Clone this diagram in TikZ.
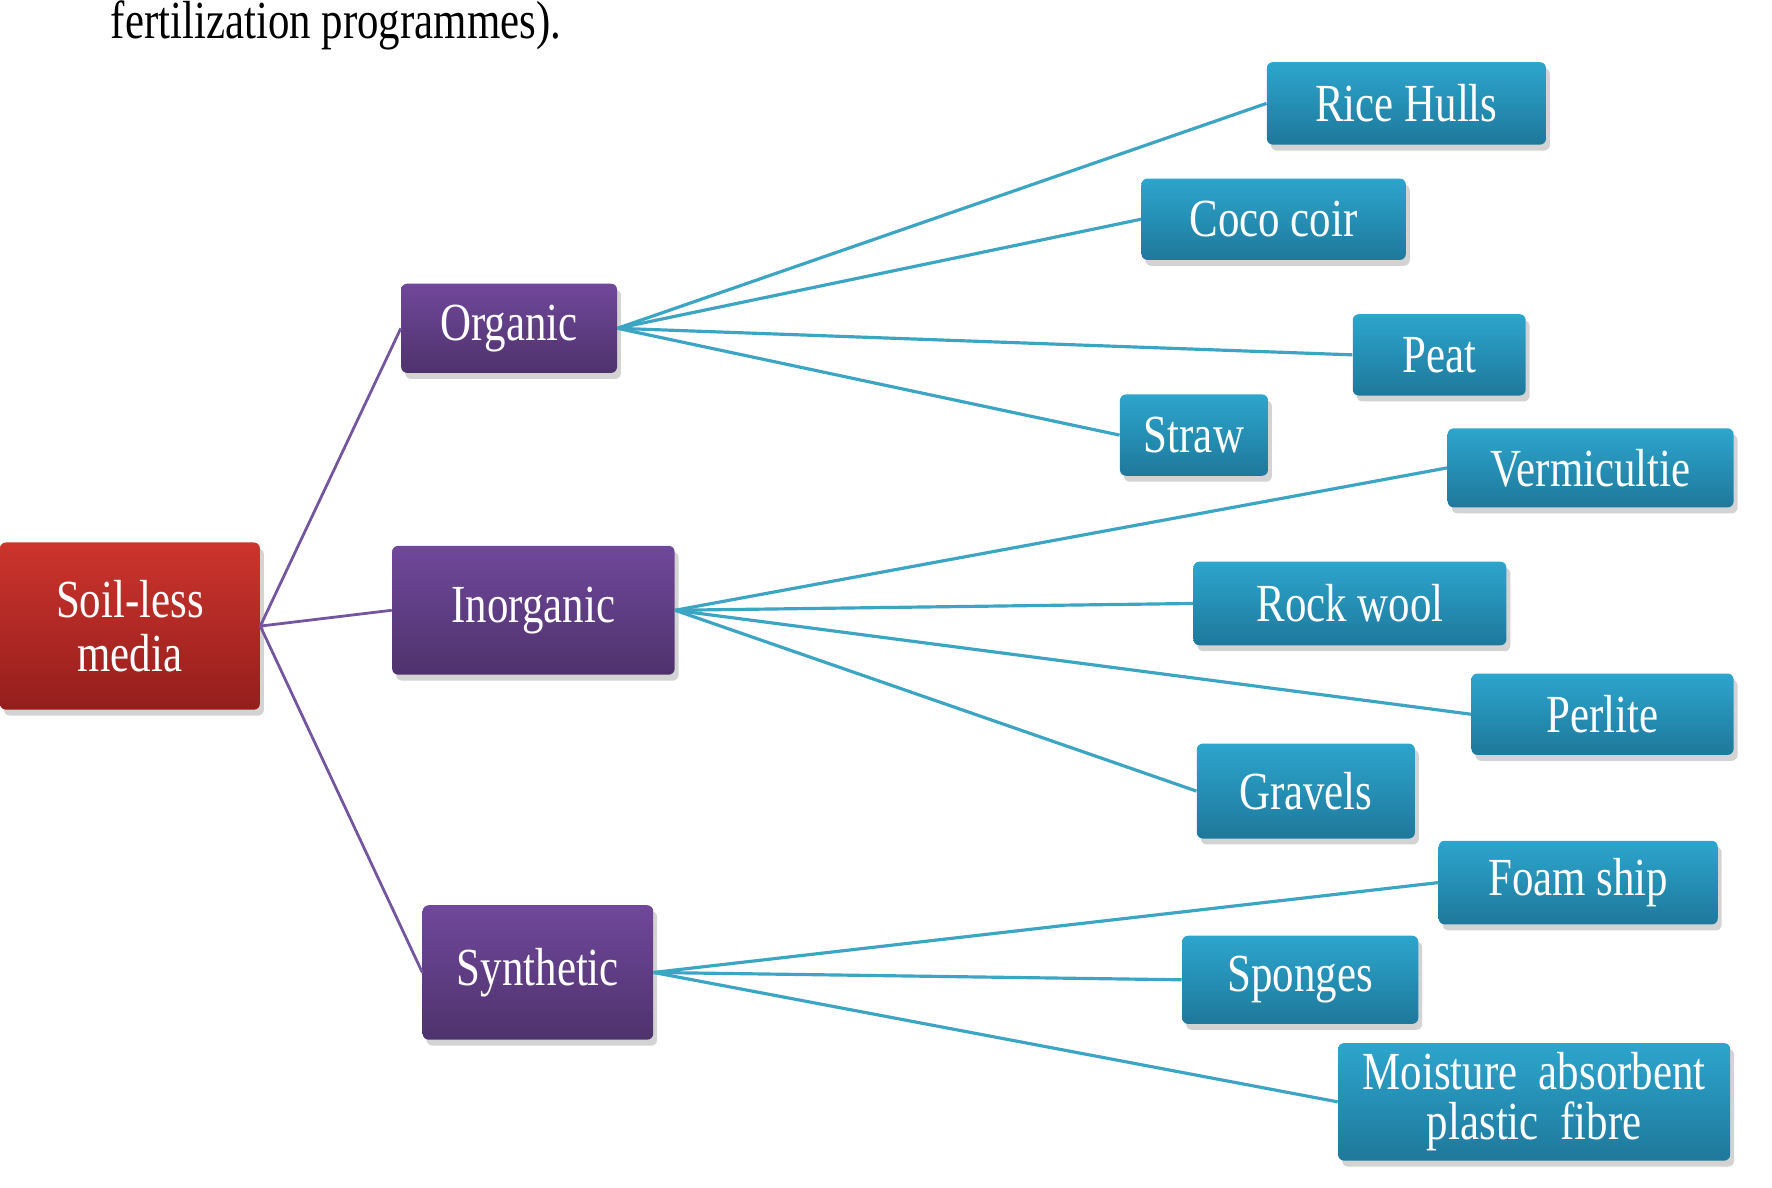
\documentclass[tikz,border=0pt]{standalone}
\usepackage{fontspec}
\setmainfont{Liberation Serif}
\usetikzlibrary{shadows}
\definecolor{bt}{RGB}{45,165,205}\definecolor{bb}{RGB}{30,120,155}
\definecolor{pt}{RGB}{112,72,155}\definecolor{pb}{RGB}{78,50,108}
\definecolor{rt}{RGB}{205,52,45}\definecolor{rb}{RGB}{148,30,28}
\definecolor{bl}{RGB}{60,165,195}\definecolor{pl}{RGB}{115,85,160}
\newcommand\cx[1]{\scalebox{0.8}[1]{#1}}
\tikzset{
 box/.style={rounded corners=3pt,inner sep=0pt,text=white,font=\fontsize{27}{31}\selectfont,align=center,
   drop shadow={shadow xshift=2pt,shadow yshift=-3pt,opacity=0.35}},
 bbox/.style={box,top color=bt,bottom color=bb},
 pbox/.style={box,top color=pt,bottom color=pb},
 rbox/.style={box,top color=rt,bottom color=rb},
 bline/.style={draw=bl,line width=1.6pt},
 pline/.style={draw=pl,line width=1.4pt}}
\begin{document}
\begin{tikzpicture}[x=0.02cm,y=-0.02cm]
\useasboundingbox (0,0) rectangle (1568,1051);
\node[anchor=base west,font=\fontsize{27}{31}\selectfont] (cap) at (92,34) {\cx{fertilization programmes).}};
\node[rbox,minimum width=4.6cm,minimum height=2.96cm] (soil) at (115,554) {\cx{Soil-less}\\[-4pt]\cx{media}};
\node[pbox,minimum width=3.82cm,minimum height=1.58cm] (org) at (450.5,290.5) {\cx{Organic}};
\node[pbox,minimum width=5.0cm,minimum height=2.28cm] (inorg) at (472,540) {\cx{Inorganic}};
\node[pbox,minimum width=4.08cm,minimum height=2.38cm] (syn) at (476,860.5) {\cx{Synthetic}};
\node[bbox,minimum width=4.94cm,minimum height=1.46cm] (rice) at (1244.5,91.5) {\cx{Rice Hulls}};
\node[bbox,minimum width=4.68cm,minimum height=1.44cm] (coco) at (1127,194) {\cx{Coco coir}};
\node[bbox,minimum width=3.06cm,minimum height=1.44cm] (peat) at (1273.5,314) {\cx{Peat}};
\node[bbox,minimum width=2.62cm,minimum height=1.44cm] (straw) at (1056.5,385) {\cx{Straw}};
\node[bbox,minimum width=5.06cm,minimum height=1.4cm] (verm) at (1407.5,414) {\cx{Vermicultie}};
\node[bbox,minimum width=5.54cm,minimum height=1.48cm] (rock) at (1194.5,534) {\cx{Rock wool}};
\node[bbox,minimum width=4.64cm,minimum height=1.44cm] (perl) at (1418,632) {\cx{Perlite}};
\node[bbox,minimum width=3.86cm,minimum height=1.68cm] (grav) at (1155.5,700) {\cx{Gravels}};
\node[bbox,minimum width=4.94cm,minimum height=1.48cm] (foam) at (1396.5,781) {\cx{Foam ship}};
\node[bbox,minimum width=4.18cm,minimum height=1.56cm] (spon) at (1150.5,867) {\cx{Sponges}};
\node[bbox,minimum width=6.94cm,minimum height=2.08cm] (moist) at (1357.5,975) {\cx{Moisture\ \ absorbent}\\[-6pt]\cx{plastic\ \ fibre}};
\foreach \c in {org,inorg,syn} \draw[pline] (soil.east) -- (\c.west);
\foreach \c in {rice,coco,peat,straw} \draw[bline] (org.east) -- (\c.west);
\foreach \c in {verm,rock,perl,grav} \draw[bline] (inorg.east) -- (\c.west);
\foreach \c in {foam,spon,moist} \draw[bline] (syn.east) -- (\c.west);
\end{tikzpicture}
\end{document}
